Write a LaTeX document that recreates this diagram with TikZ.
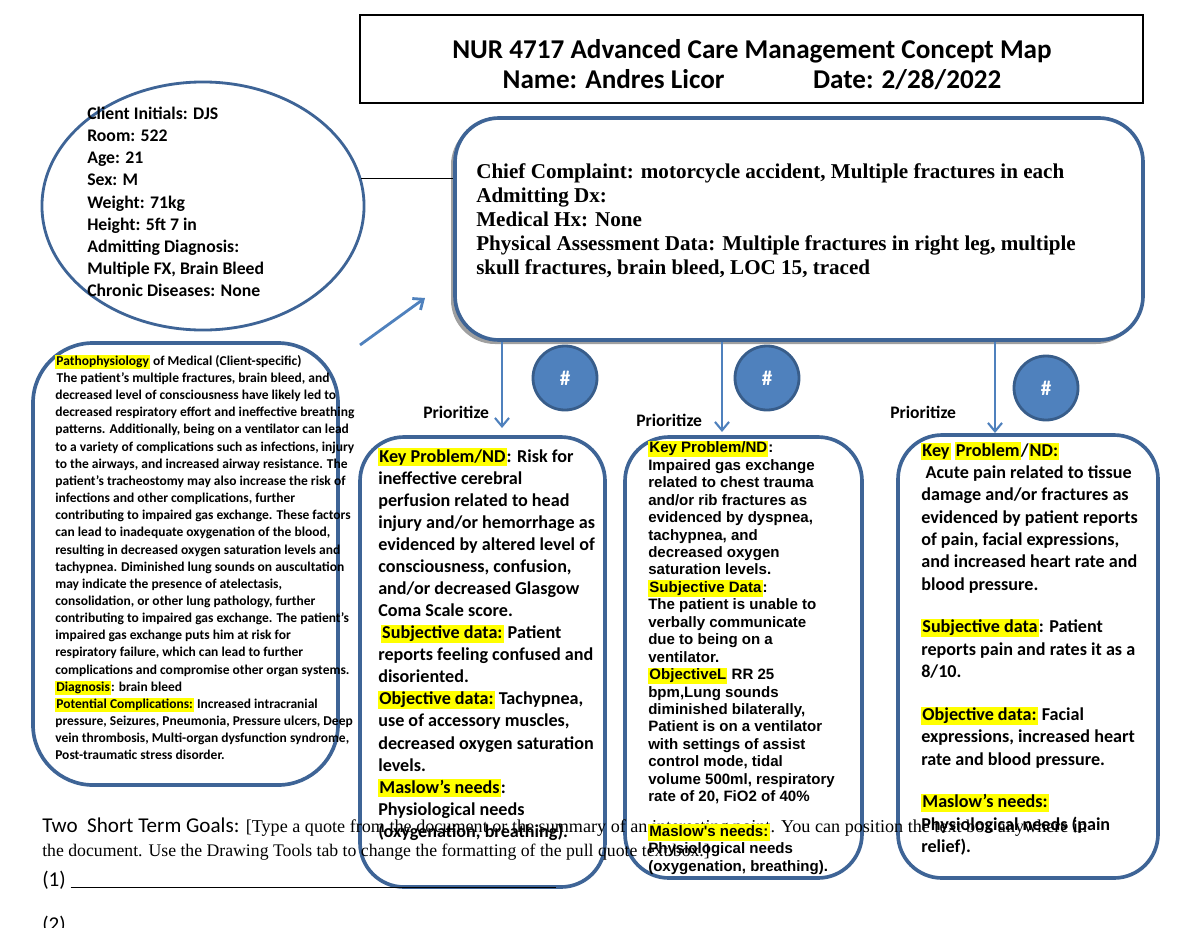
\documentclass[tikz,border=0pt]{standalone}
\usepackage{fontspec}
\setmainfont{Carlito}
\newfontfamily\arialfont{Liberation Sans}
\newfontfamily\timesfont{Liberation Serif}
\usetikzlibrary{arrows.meta,shapes.geometric,fit}
\usepackage{xcolor}
\definecolor{boxblue}{RGB}{62,100,150}
\definecolor{arrowblue}{RGB}{79,129,189}
\definecolor{dotblue}{RGB}{79,129,189}
\definecolor{dotedge}{RGB}{56,93,138}
\definecolor{shadowgray}{RGB}{160,160,160}
\definecolor{hiyellow}{RGB}{255,255,0}
\newcommand{\hl}[1]{{\setlength{\fboxsep}{0.8pt}\smash{\colorbox{hiyellow}{\vphantom{Ag}#1}}}}

\begin{document}
\begin{tikzpicture}[x=0.025cm,y=-0.025cm,
  panel/.style={draw=boxblue,line width=2.6pt,rounded corners=1.1cm,fill=white,inner sep=0pt},
  hashdot/.style={circle,fill=dotblue,draw=dotedge,line width=2pt,minimum size=1.6cm,
    text=white,font=\fontsize{15}{17}\selectfont\bfseries},
  blurb/.style={anchor=north west,inner sep=0pt,align=left},
  arr/.style={draw=arrowblue,line width=1.5pt,-{Straight Barb[length=6pt,width=10pt]}},
  prio/.style={anchor=base west,inner sep=0pt,font=\fontsize{12.5}{14}\selectfont\bfseries}]
  % --- page ---
  \useasboundingbox (0,0) rectangle (1200,927);
  \fill[white] (0,0) rectangle (1200,927);

  % --- title box ---
  \node[draw=black,line width=1.2pt,inner sep=0pt,fit={(360,15) (1143,103)}] (titlebox) {};
  \node[align=center,inner sep=0pt,font=\fontsize{19.3}{21.3}\selectfont\bfseries] (title)
    at (752,65) {NUR 4717 Advanced Care Management Concept Map\\
    Name: Andres Licor\hspace{63pt}Date: 2/28/2022};

  % --- client ellipse ---
  \node[ellipse,draw=boxblue,line width=2pt,minimum width=8.05cm,minimum height=6.2cm,
    inner sep=0pt] (client) at (203,206) {};
  \node[blurb,font=\fontsize{12.6}{15.7}\selectfont\bfseries] (clienttext) at (87,107) {%
    Client Initials: DJS\\
    Room: 522\\
    Age: 21\\
    Sex: M\\
    Weight: 71kg\\
    Height: 5ft 7 in\\
    Admitting Diagnosis:\\
    Multiple FX, Brain Bleed\\
    Chronic Diseases: None};

  % --- chief complaint box (with shadow) ---
  \fill[shadowgray,rounded corners=1.1cm] (451,121) rectangle (1140,344);
  \node[panel,fit={(455,118) (1143,340)}] (chief) {};
  \node[blurb,font=\fontsize{15}{17.2}\selectfont\timesfont\bfseries] (chieftext) at (476,163) {%
    Chief Complaint: motorcycle accident, Multiple fractures in each\\
    Admitting Dx:\\
    Medical Hx: None\\
    Physical Assessment Data: Multiple fractures in right leg, multiple\\
    skull fractures, brain bleed, LOC 15, traced};
  \draw[black,line width=0.7pt] (client.10) -- (client.10 -| chief.west);

  % --- arrow towards chief complaint ---
  \coordinate (diagS) at (360,345);
  \coordinate (diagE) at (425,298);
  \draw[arr,line width=2pt] (diagS) -- (diagE);

  % --- pathophysiology box ---
  \node[panel,rounded corners=1.5cm,fit={(33,343) (338,785)}] (patho) {};

  % --- problem boxes ---
  \node[panel,fit={(360,437) (605,887)}] (keyA) {};
  \node[panel,fit={(625,437) (862,878)}] (keyB) {};
  \node[panel,fit={(898,435) (1158,878)}] (keyC) {};

  % --- priority circles ---
  \node[hashdot] (rankA) at (565,378) {\#};
  \node[hashdot] (rankB) at (767,378) {\#};
  \node[hashdot] (rankC) at (1046,388) {\#};

  % --- arrows down to the problems ---
  \coordinate (tipA) at (502,428);
  \coordinate (tipB) at (722,432);
  \coordinate (tipC) at (995,433);
  \draw[arr] (chief.south -| tipA) -- (tipA);
  \draw[arr] (chief.south -| tipB) -- (tipB);
  \draw[arr] (chief.south -| tipC) -- (tipC);
  \node[prio] (prioA) at (423,418) {Prioritize};
  \node[prio] (prioB) at (636,426) {Prioritize};
  \node[prio] (prioC) at (890,418) {Prioritize};

  % --- short term goals ---
  \node[anchor=base west,inner sep=0pt] (goalsA) at (42,832)
    {{\fontsize{15}{17}\selectfont Two\ \ Short Term Goals: }{\fontsize{12.9}{15}\selectfont\timesfont
    [Type a quote from the document or the summary of an interesting point. You can position the text box anywhere in}};
  \node[anchor=base west,inner sep=0pt,font=\fontsize{12.6}{15}\selectfont\timesfont] (goalsB) at (42,856)
    {the document. Use the Drawing Tools tab to change the formatting of the pull quote text box.]};
  \node[anchor=base west,inner sep=0pt,font=\fontsize{15}{17}\selectfont] (goalone) at (42,886)
    {(1) \rule[-1.5pt]{345pt}{0.7pt}};
  \node[anchor=base west,inner sep=0pt,font=\fontsize{15}{17}\selectfont] (goaltwo) at (42,931) {(2)};

  % --- box texts ---
  \node[blurb,font=\fontsize{9.6}{12.2}\selectfont\bfseries] (pathotext) at (55,355) {%
    \hl{Pathophysiology} of Medical (Client-specific)\\
    \hspace{1pt}The patient's multiple fractures, brain bleed, and\\
    decreased level of consciousness have likely led to\\
    decreased respiratory effort and ineffective breathing\\
    patterns. Additionally, being on a ventilator can lead\\
    to a variety of complications such as infections, injury\\
    to the airways, and increased airway resistance. The\\
    patient's tracheostomy may also increase the risk of\\
    infections and other complications, further\\
    contributing to impaired gas exchange. These factors\\
    can lead to inadequate oxygenation of the blood,\\
    resulting in decreased oxygen saturation levels and\\
    tachypnea. Diminished lung sounds on auscultation\\
    may indicate the presence of atelectasis,\\
    consolidation, or other lung pathology, further\\
    contributing to impaired gas exchange. The patient's\\
    impaired gas exchange puts him at risk for\\
    respiratory failure, which can lead to further\\
    complications and compromise other organ systems.\\
    \hl{Diagnosis}: brain bleed\\
    \hl{Potential Complications:} Increased intracranial\\
    pressure, Seizures, Pneumonia, Pressure ulcers, Deep\\
    vein thrombosis, Multi-organ dysfunction syndrome,\\
    Post-traumatic stress disorder.};

  \node[blurb,font=\fontsize{12.9}{15.7}\selectfont\bfseries] (keyAtext) at (378,449) {%
    \hl{Key Problem/ND}: Risk for\\
    ineffective cerebral\\
    perfusion related to head\\
    injury and/or hemorrhage as\\
    evidenced by altered level of\\
    consciousness, confusion,\\
    and/or decreased Glasgow\\
    Coma Scale score.\\
    \hspace{2pt}\hl{Subjective data:} Patient\\
    reports feeling confused and\\
    disoriented.\\
    \hl{Objective data:} Tachypnea,\\
    use of accessory muscles,\\
    decreased oxygen saturation\\
    levels.\\
    \hl{Maslow's needs}:\\
    Physiological needs\\
    (oxygenation, breathing).};

  \node[blurb,font=\fontsize{10.7}{12.4}\selectfont\arialfont\bfseries] (keyBtext) at (648,445) {%
    \hl{Key Problem/ND}:\\
    Impaired gas exchange\\
    related to chest trauma\\
    and/or rib fractures as\\
    evidenced by dyspnea,\\
    tachypnea, and\\
    decreased oxygen\\
    saturation levels.\\
    \hl{Subjective Data}:\\
    The patient is unable to\\
    verbally communicate\\
    due to being on a\\
    ventilator.\\
    \hl{ObjectiveL} RR 25\\
    bpm,Lung sounds\\
    diminished bilaterally,\\
    Patient is on a ventilator\\
    with settings of assist\\
    control mode, tidal\\
    volume 500ml, respiratory\\
    rate of 20, FiO2 of 40\%\\[12.4pt]
    \hl{Maslow's needs:}\\
    Physiological needs\\
    (oxygenation, breathing).};

  \node[blurb,font=\fontsize{12.9}{15.9}\selectfont\bfseries] (keyCtext) at (921,443) {%
    \hl{Key} \hl{Problem}/\hl{ND:}\\
    \hspace{3pt}Acute pain related to tissue\\
    damage and/or fractures as\\
    evidenced by patient reports\\
    of pain, facial expressions,\\
    and increased heart rate and\\
    blood pressure.\\[14.5pt]
    \hl{Subjective data}: Patient\\
    reports pain and rates it as a\\
    8/10.\\[14.5pt]
    \hl{Objective data:} Facial\\
    expressions, increased heart\\
    rate and blood pressure.\\[14.5pt]
    \hl{Maslow's needs:}\\
    Physiological needs (pain\\
    relief).};
\end{tikzpicture}
\end{document}
